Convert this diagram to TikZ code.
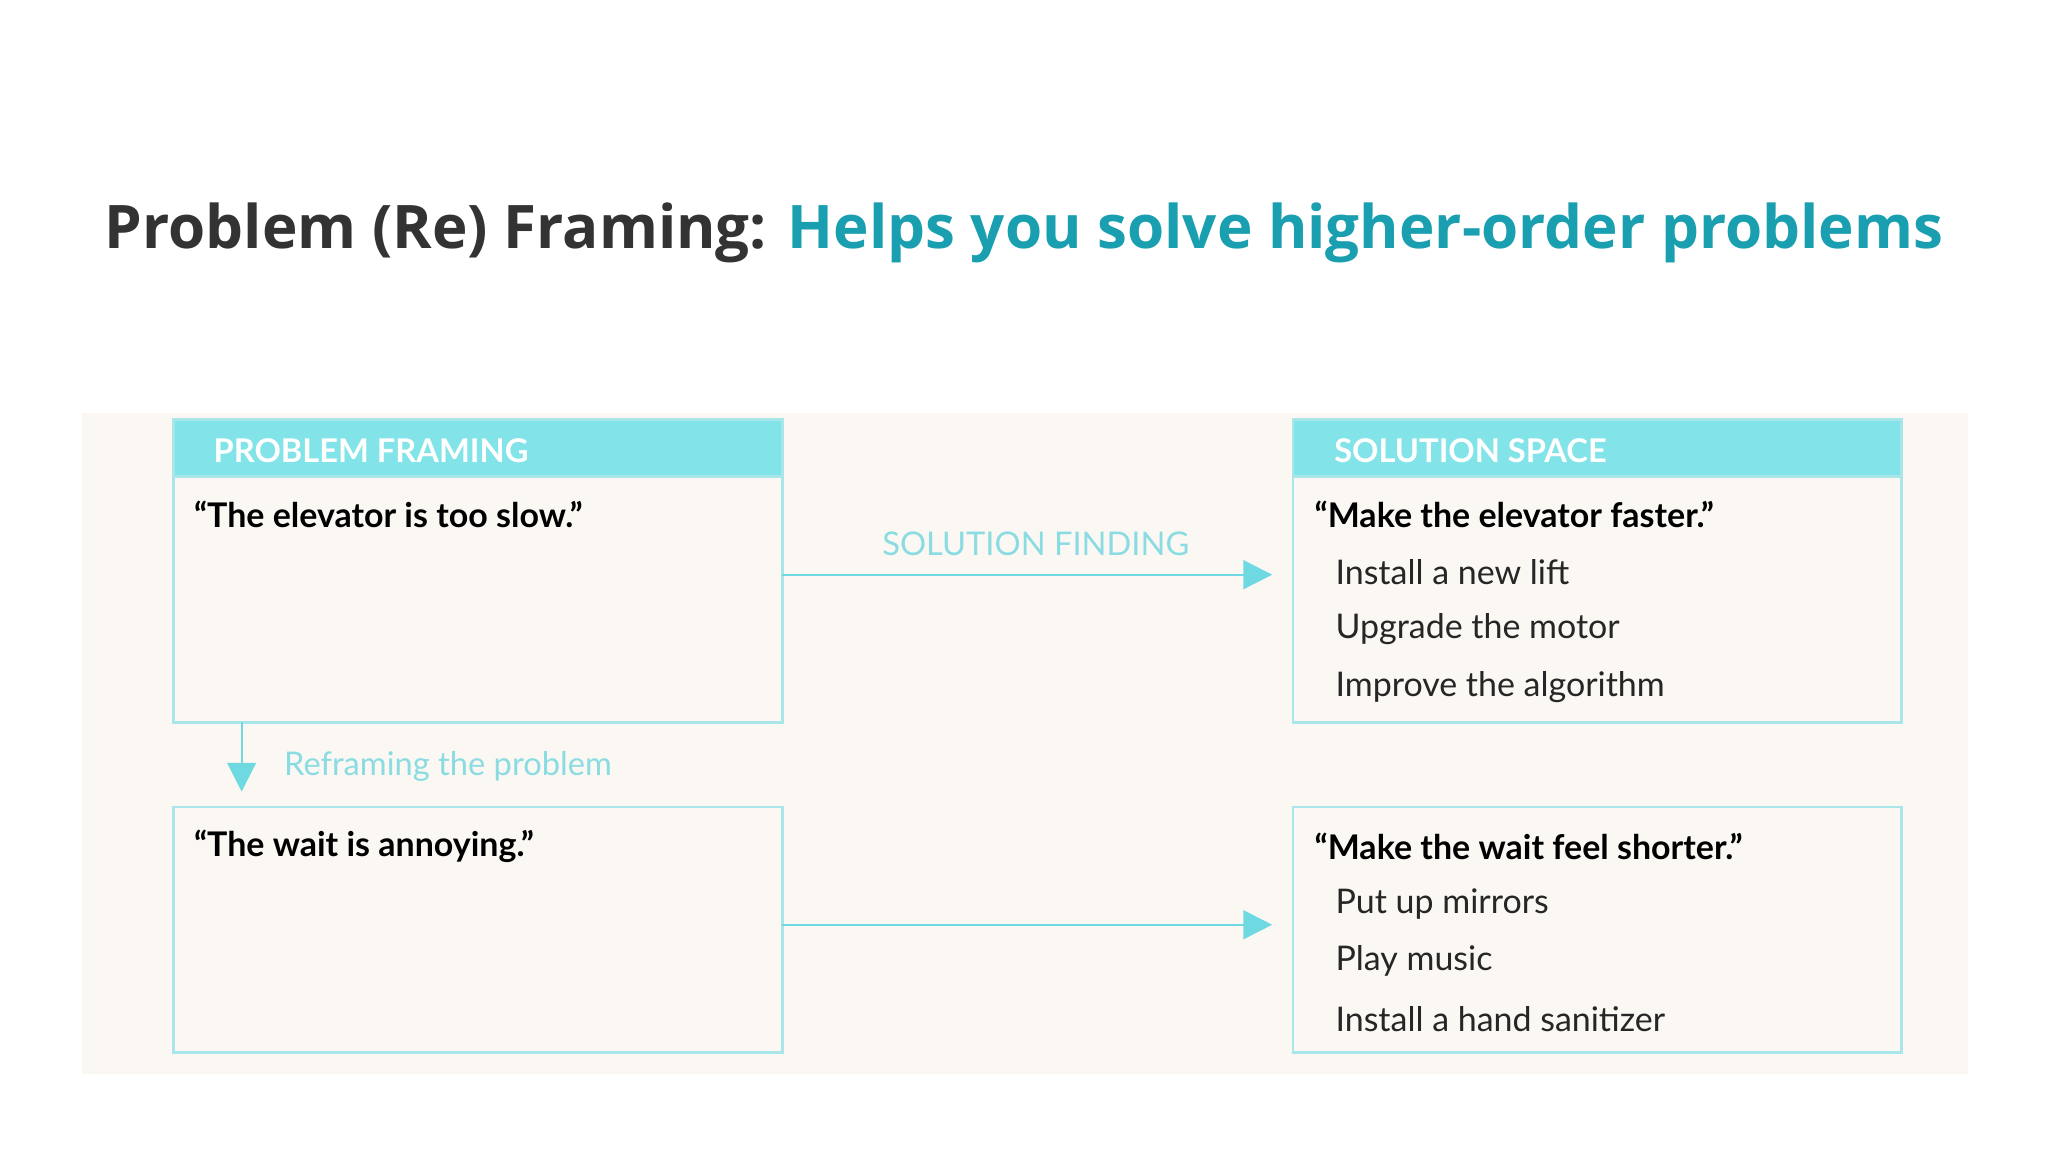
\documentclass[tikz,border=0pt]{standalone}
\usepackage{fontspec}
\setmainfont{Lato}
\newfontfamily\titlefont{Open Sans}
\usetikzlibrary{arrows.meta}
\definecolor{teal1}{HTML}{1A9FB0}
\definecolor{dark}{HTML}{333333}
\definecolor{cyanhead}{HTML}{82E4E8}
\definecolor{cyanline}{HTML}{A8E6EA}
\definecolor{cyanarrow}{HTML}{6ED9E0}
\definecolor{cyantext}{HTML}{8ADCE2}
\definecolor{panel}{HTML}{FBF8F3}
\tikzset{
 box/.style={draw=cyanline,line width=2pt,fill=panel},
 head/.style={fill=cyanhead,draw=cyanline,line width=2pt},
 headtxt/.style={anchor=west,text=white,font=\fontsize{25}{28}\selectfont\bfseries},
 quote/.style={anchor=west,font=\fontsize{26}{30}\selectfont\bfseries,text=black},
 item/.style={anchor=west,font=\fontsize{26}{30}\selectfont,text=black!85},
 conn/.style={draw=cyanarrow,line width=1.6pt,-{Triangle[length=22pt,width=22pt]}},
 lbl/.style={text=cyantext,font=\fontsize{25}{28}\selectfont}
}
\begin{document}
\begin{tikzpicture}[x=1pt,y=-1pt]
\useasboundingbox (0,0) rectangle (1568,882);
\fill[white] (0,0) rectangle (1568,882);
\node[anchor=base,font=\titlefont\fontsize{46}{52}\selectfont\bfseries] (title) at (784,190) {\textcolor{dark}{Problem (Re) Framing:} \textcolor{teal1}{Helps you solve higher-order problems}};
\fill[panel] (63,316) rectangle (1507,822);
% boxes
\draw[box] (133,321) rectangle (599,553);
\draw[head] (133,321) rectangle (599,365);
\node (b1) at (366,437) {};
\node[headtxt] (h1) at (160,345) {PROBLEM FRAMING};
\node[quote] (q1) at (145,394) {“The elevator is too slow.”};
\draw[box] (133,618) rectangle (599,806);
\node[quote] (q2) at (145,648) {“The wait is annoying.”};
\draw[box] (990,321) rectangle (1456,553);
\draw[head] (990,321) rectangle (1456,365);
\node[headtxt] (h3) at (1018,345) {SOLUTION SPACE};
\node[quote] (q3) at (1003,394) {“Make the elevator faster.”};
\node[item] (i1) at (1019,438) {Install a new lift};
\node[item] (i2) at (1019,482) {Upgrade the motor};
\node[item] (i3) at (1019,526) {Improve the algorithm};
\draw[box] (990,618) rectangle (1456,806);
\node[quote] (q4) at (1003,648) {“Make the wait feel shorter.”};
\node[item] (j1) at (1019,692) {Put up mirrors};
\node[item] (j2) at (1019,736) {Play music};
\node[item] (j3) at (1019,780) {Install a hand sanitizer};
% connectors
\coordinate (a1s) at (599,440); \coordinate (a1e) at (974,440);
\coordinate (a2s) at (599,708); \coordinate (a2e) at (974,708);
\coordinate (a3s) at (185,553); \coordinate (a3e) at (185,606);
\draw[conn] (a1s) -- (a1e);
\draw[conn] (a2s) -- (a2e);
\draw[conn] (a3s) -- (a3e);
\node[lbl,anchor=base] (l1) at (793,425) {SOLUTION FINDING};
\node[lbl,anchor=west] (l2) at (214,587) {Reframing the problem};
\end{tikzpicture}
\end{document}
